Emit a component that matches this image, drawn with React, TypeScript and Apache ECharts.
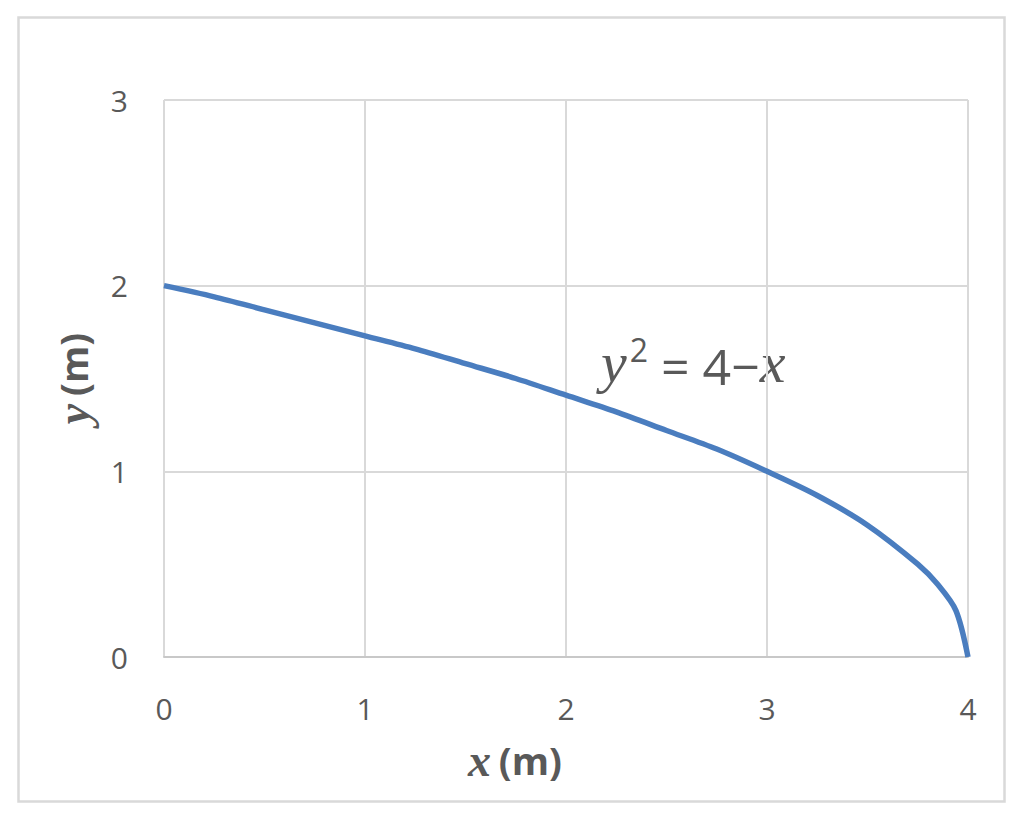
import React, { useEffect, useRef } from "react";
import * as echarts from "echarts";

const xValues = [0, 0.25, 0.5, 0.75, 1, 1.25, 1.5, 1.75, 2, 2.25, 2.5, 2.75, 3, 3.25, 3.5, 3.75, 3.85, 3.94, 4];
const yValues = [2.0, 1.94, 1.87, 1.8, 1.73, 1.66, 1.58, 1.5, 1.41, 1.32, 1.22, 1.12, 1.0, 0.87, 0.71, 0.5, 0.39, 0.25, 0];
const xTicks = [0, 1, 2, 3, 4];
const yTicks = [0, 1, 2, 3];

const LABEL = "#595959";
const FONT = "'Open Sans', sans-serif";
const SERIF = "'Liberation Serif', 'DejaVu Serif', serif";

const nameRich = {
  i: { fontFamily: SERIF, fontStyle: "italic", fontWeight: "bold", fontSize: 46, color: LABEL },
  s: { fontFamily: FONT, fontSize: 30, color: LABEL },
  b: { fontFamily: FONT, fontWeight: "bold", fontSize: 38, color: LABEL },
};

export default function App() {
  const ref = useRef<HTMLDivElement>(null);
  useEffect(() => {
    if (!ref.current) return;
    const chart = echarts.init(ref.current, undefined, { renderer: "svg" });
    chart.setOption({
      animation: false,
      backgroundColor: "#ffffff",
      grid: { left: 164, right: 42, top: 100, bottom: 159, containLabel: false },
      xAxis: {
        type: "value",
        min: xTicks[0],
        max: xTicks[xTicks.length - 1],
        interval: 1,
        axisLine: { show: true, lineStyle: { color: "#c8c8c8", width: 2 } },
        axisTick: { show: false },
        splitLine: { show: true, lineStyle: { color: "#d9d9d9", width: 2 } },
        axisLabel: { color: LABEL, fontSize: 30, fontFamily: FONT, margin: 36 },
        name: "{i|x}{s| }{b|(m)}",
        nameLocation: "middle",
        nameGap: 80,
        nameTextStyle: { padding: [0, 102, 0, 0], rich: nameRich },
      },
      yAxis: {
        type: "value",
        min: yTicks[0],
        max: yTicks[yTicks.length - 1],
        interval: 1,
        axisLine: { show: false },
        axisTick: { show: false },
        splitLine: { show: true, lineStyle: { color: "#d9d9d9", width: 2 } },
        axisLabel: { color: LABEL, fontSize: 30, fontFamily: FONT, margin: 36 },
        name: "{i|y}{s| }{b|(m)}",
        nameLocation: "middle",
        nameGap: 68,
        nameRotate: 90,
        nameTextStyle: { rich: nameRich },
      },
      graphic: [
        {
          type: "rect",
          left: 16,
          top: 15,
          shape: { width: 986, height: 784 },
          style: { fill: "none", stroke: "#d9d9d9", lineWidth: 2.5 },
          z: -1,
        },
        {
          type: "text",
          left: 601,
          top: 333,
          style: {
            text: "{i|y}{s|2}{n| = 4−}{i|x}",
            rich: {
              i: { fontFamily: SERIF, fontStyle: "italic", fontSize: 58, fill: LABEL, verticalAlign: "bottom" },
              s: { fontFamily: FONT, fontSize: 32, fill: LABEL, verticalAlign: "top", padding: [0, 0, 20, 3] },
              n: { fontFamily: FONT, fontSize: 50, fill: LABEL, verticalAlign: "bottom" },
            },
          },
        },
      ],
      series: [
        {
          type: "line",
          data: xValues.map((x, i) => [x, yValues[i]]),
          smooth: 0.3,
          showSymbol: false,
          lineStyle: { color: "#4a7dbf", width: 5.5 },
        },
      ],
    });
    return () => chart.dispose();
  }, []);
  return (
    <div
      ref={ref}
      style={{ position: "fixed", left: 0, top: 0, width: 1010, height: 816, background: "#fff" }}
    />
  );
}
